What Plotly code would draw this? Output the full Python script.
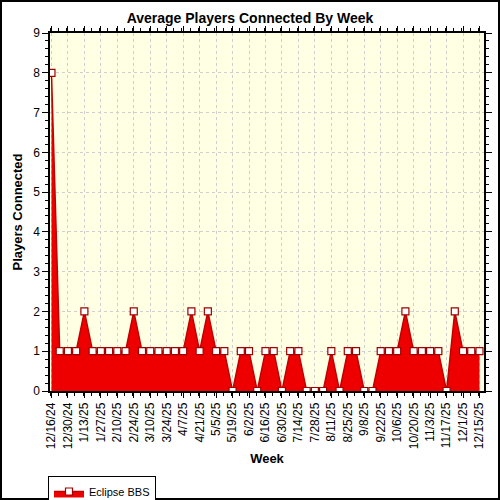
import plotly.graph_objects as go

# weekly buckets (week starting)
weeks = [
    "2024-12-16", "2024-12-23", "2024-12-30", "2025-01-06", "2025-01-13", "2025-01-20",
    "2025-01-27", "2025-02-03", "2025-02-10", "2025-02-17", "2025-02-24", "2025-03-03",
    "2025-03-10", "2025-03-17", "2025-03-24", "2025-03-31", "2025-04-07", "2025-04-14",
    "2025-04-21", "2025-04-28", "2025-05-05", "2025-05-12", "2025-05-19", "2025-05-26",
    "2025-06-02", "2025-06-09", "2025-06-16", "2025-06-23", "2025-06-30", "2025-07-07",
    "2025-07-14", "2025-07-21", "2025-07-28", "2025-08-04", "2025-08-11", "2025-08-18",
    "2025-08-25", "2025-09-01", "2025-09-08", "2025-09-15", "2025-09-22", "2025-09-29",
    "2025-10-06", "2025-10-13", "2025-10-20", "2025-10-27", "2025-11-03", "2025-11-10",
    "2025-11-17", "2025-11-24", "2025-12-01", "2025-12-08", "2025-12-15",
]

# average players connected per week
players = [
    8, 1, 1, 1, 2, 1, 1, 1, 1, 1, 2, 1, 1, 1, 1, 1, 1, 2, 1, 2,
    1, 1, 0, 1, 1, 0, 1, 1, 0, 1, 1, 0, 0, 0, 1, 0, 1, 1, 0, 0,
    1, 1, 1, 2, 1, 1, 1, 1, 0, 2, 1, 1, 1,
]

series_name = "Eclipse BBS"
y_ticks = [0, 1, 2, 3, 4, 5, 6, 7, 8, 9]

FONT = "Liberation Sans, Arial, sans-serif"
W, H = 500, 500
ML, MR, MT, MB = 50, 16, 33, 109

fig = go.Figure()

fig.add_trace(go.Scatter(
    x=weeks, y=players,
    name=series_name,
    mode="lines+markers",
    fill="tozeroy",
    fillcolor="#EE0000",
    line=dict(color="#C00000", width=1.5),
    marker=dict(symbol="square", size=7, color="white",
                line=dict(color="#A00000", width=1.2)),
))

pw = W - ML - MR
ph = H - MT - MB

fig.update_layout(
    width=W, height=H,
    margin=dict(l=ML, r=MR, t=MT, b=MB, autoexpand=False),
    paper_bgcolor="white",
    plot_bgcolor="#FFFFE4",
    font=dict(family=FONT, size=12, color="black"),
    title=dict(text="<b>Average Players Connected By Week</b>",
               x=0.5, xanchor="center", y=1 - 18 / H, yanchor="middle",
               font=dict(size=14, family=FONT, color="black")),
    showlegend=True,
    legend=dict(x=-2 / pw, y=-(476 - (H - MB)) / ph, xanchor="left", yanchor="top",
                orientation="h", bordercolor="black", borderwidth=1,
                bgcolor="white", font=dict(size=11, family=FONT),
                itemwidth=30, tracegroupgap=0),
    xaxis=dict(
        type="date",
        range=["2024-12-14 18:00", "2025-12-18 20:00"],
        tick0="2024-12-16", dtick=14 * 86400000,
        tickformat="%-m/%-d/%y", tickangle=-90,
        tickfont=dict(size=12, family=FONT),
        ticks="outside", ticklen=5, tickcolor="black",
        minor=dict(dtick=7 * 86400000, ticks="outside", ticklen=3,
                   tickcolor="black", showgrid=False),
        showline=True, linecolor="black", linewidth=1.5, mirror="ticks",
        showgrid=True, gridcolor="#CFCFCF", griddash="dot", gridwidth=1,
        zeroline=False, automargin=False,
        title=dict(text="<b>Week</b>", font=dict(size=13, family=FONT), standoff=6),
    ),
    yaxis=dict(
        range=[0, 9],
        tickvals=y_ticks,
        tickfont=dict(size=12, family=FONT),
        ticks="outside", ticklen=6, tickcolor="black",
        minor=dict(dtick=0.2, ticks="outside", ticklen=3,
                   tickcolor="black", showgrid=False),
        showline=True, linecolor="black", linewidth=1.5, mirror="ticks",
        showgrid=True, gridcolor="#CFCFCF", griddash="dot", gridwidth=1,
        zeroline=False, automargin=False,
        title=dict(text="<b>Players Connected</b>", font=dict(size=13, family=FONT), standoff=8),
    ),
)

# outer frame around the whole image
fig.add_shape(type="rect", xref="paper", yref="paper",
              x0=-(ML - 1) / pw, x1=1 + (MR - 1) / pw,
              y0=-(MB - 1) / ph, y1=1 + (MT - 1) / ph,
              line=dict(color="black", width=2), fillcolor="rgba(0,0,0,0)",
              layer="above")

# drop the page's default body margin so the chart sits at the window corner
fig.write_html("out.html", config={"displayModeBar": False},
               post_script="document.body.style.margin='0';")
